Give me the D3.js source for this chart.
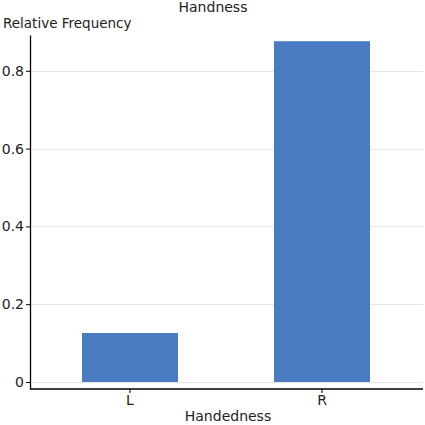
<!DOCTYPE html>
<html>
<head>
<meta charset="utf-8">
<script src="https://d3js.org/d3.v7.min.js"></script>
<style>
  body { margin: 0; background: #fff; }
  text { font-family: "DejaVu Sans", Verdana, sans-serif; fill: #222; }
  .grid line { stroke: #e6e6e6; }
</style>
</head>
<body>
<svg width="425" height="425"></svg>
<script>
var categories = ["L", "R"];
var frequencies = [0.126, 0.876];
var yTicks = [0, 0.2, 0.4, 0.6, 0.8];
var yTickLabels = ["0", "0.2", "0.4", "0.6", "0.8"];

var svg = d3.select("svg");
var plotLeft = 30, plotRight = 423, plotTop = 35, plotBottom = 389;

var x = d3.scaleBand()
    .domain(categories)
    .range([34, 418])
    .paddingInner(0.5)
    .paddingOuter(0.25);

var y = d3.scaleLinear()
    .domain([-0.018, 0.892])
    .range([plotBottom, plotTop]);

// gridlines
svg.append("g").attr("class", "grid")
  .selectAll("line")
  .data(yTicks)
  .enter().append("line")
    .attr("x1", plotLeft).attr("x2", plotRight)
    .attr("y1", d => Math.round(y(d)) + 0.5)
    .attr("y2", d => Math.round(y(d)) + 0.5);

// bars
svg.selectAll(".bar")
    .data(frequencies)
  .enter().append("rect")
    .attr("class", "bar")
    .attr("x", (d, i) => x(categories[i]))
    .attr("width", x.bandwidth())
    .attr("y", d => y(d))
    .attr("height", d => y(0) - y(d))
    .style("fill", "#4a7bc0");

// y axis
var yAxis = svg.append("g")
    .attr("transform", "translate(" + plotLeft + ",0)")
    .call(d3.axisLeft(y)
        .tickValues(yTicks)
        .tickFormat((d, i) => yTickLabels[i])
        .tickSize(4)
        .tickSizeOuter(0)
        .tickPadding(2));
yAxis.select(".domain").attr("stroke", "#000").attr("stroke-width", 1.3);
yAxis.selectAll(".tick line").attr("stroke", "#000");
yAxis.selectAll("text").style("font-size", "14px").attr("fill", "#222")
    .style("font-family", "'DejaVu Sans', Verdana, sans-serif");

// x axis
var xAxis = svg.append("g")
    .attr("transform", "translate(0," + plotBottom + ")")
    .call(d3.axisBottom(x).tickSize(4).tickSizeOuter(0).tickPadding(2));
xAxis.select(".domain").attr("stroke", "#000").attr("stroke-width", 1.3)
    .attr("d", "M" + plotLeft + ",0H" + plotRight);
xAxis.selectAll(".tick line").attr("stroke", "#000");
xAxis.selectAll("text").style("font-size", "14px").attr("fill", "#222")
    .style("font-family", "'DejaVu Sans', Verdana, sans-serif");

// titles
svg.append("text")
    .attr("x", 213).attr("y", 12)
    .attr("text-anchor", "middle")
    .style("font-size", "14px")
    .text("Handness");

svg.append("text")
    .attr("x", 3).attr("y", 28)
    .style("font-size", "13.5px")
    .text("Relative Frequency");

svg.append("text")
    .attr("x", 228).attr("y", 421)
    .attr("text-anchor", "middle")
    .style("font-size", "14px")
    .text("Handedness");
</script>
</body>
</html>
